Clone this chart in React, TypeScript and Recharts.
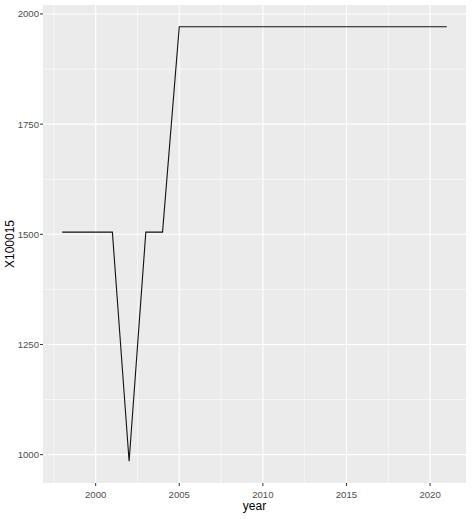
import React from 'react';
import { LineChart, Line, XAxis, YAxis, CartesianGrid, Label } from 'recharts';

const years = [1998, 1999, 2000, 2001, 2002, 2003, 2004, 2005, 2006, 2007, 2008, 2009, 2010, 2011, 2012, 2013, 2014, 2015, 2016, 2017, 2018, 2019, 2020, 2021];
const values = [1505, 1505, 1505, 1505, 985, 1505, 1505, 1971, 1971, 1971, 1971, 1971, 1971, 1971, 1971, 1971, 1971, 1971, 1971, 1971, 1971, 1971, 1971, 1971];
const xTicks = [2000, 2005, 2010, 2015, 2020];
const xMinor = [1997.5, 2002.5, 2007.5, 2012.5, 2017.5];
const yTicks = [1000, 1250, 1500, 1750, 2000];
const yMinor = [1125, 1375, 1625, 1875];

const data = years.map((year, i) => ({ year, X100015: values[i] }));

const expand = (arr: number[]): [number, number] => {
  const lo = Math.min(...arr);
  const hi = Math.max(...arr);
  const pad = (hi - lo) * 0.05;
  return [lo - pad, hi + pad];
};

const xDomain = expand(years);
const yDomain = expand(values);

const FONT = '"Liberation Sans", Arial, sans-serif';

export default function App() {
  return (
    <div style={{ position: 'absolute', left: 0, top: 0, width: 474, height: 519, background: '#fff' }}>
      <LineChart
        width={474}
        height={519}
        data={data}
        margin={{ top: 5, right: 8, bottom: 0, left: 0 }}
        style={{ fontFamily: FONT }}
      >
        <CartesianGrid
          fill="#EBEBEB"
          stroke="#FFFFFF"
          strokeWidth={0.55}
          horizontalValues={yMinor}
          verticalValues={xMinor}
        />
        <CartesianGrid
          stroke="#FFFFFF"
          strokeWidth={1.1}
          horizontalValues={yTicks}
          verticalValues={xTicks}
        />
        <XAxis
          dataKey="year"
          type="number"
          domain={xDomain}
          ticks={xTicks}
          allowDataOverflow
          axisLine={false}
          tickLine={{ stroke: '#333333', strokeWidth: 1 }}
          tickSize={3}
          tickMargin={5}
          height={36}
          tick={{ fill: '#4D4D4D', fontSize: 9.6, fontFamily: FONT }}
        >
          <Label
            content={(props: any) => {
              const vb = props.viewBox || {};
              return (
                <text
                  x={vb.x + vb.width / 2}
                  y={510}
                  textAnchor="middle"
                  fill="#000"
                  fontSize={12}
                  fontFamily={FONT}
                >
                  year
                </text>
              );
            }}
          />
        </XAxis>
        <YAxis
          type="number"
          domain={yDomain}
          ticks={yTicks}
          allowDataOverflow
          axisLine={false}
          tickLine={{ stroke: '#333333', strokeWidth: 1 }}
          tickSize={3}
          tickMargin={1}
          width={43}
          tick={{ fill: '#4D4D4D', fontSize: 9.6, fontFamily: FONT }}
        >
          <Label
            content={(props: any) => {
              const vb = props.viewBox || {};
              const cy = vb.y + vb.height / 2;
              return (
                <text
                  x={14}
                  y={cy}
                  textAnchor="middle"
                  fill="#000"
                  fontSize={12}
                  fontFamily={FONT}
                  transform={`rotate(-90, 14, ${cy})`}
                >
                  X100015
                </text>
              );
            }}
          />
        </YAxis>
        <Line
          type="linear"
          dataKey="X100015"
          stroke="#111111"
          strokeWidth={1.1}
          dot={false}
          activeDot={false}
          isAnimationActive={false}
        />
      </LineChart>
    </div>
  );
}
